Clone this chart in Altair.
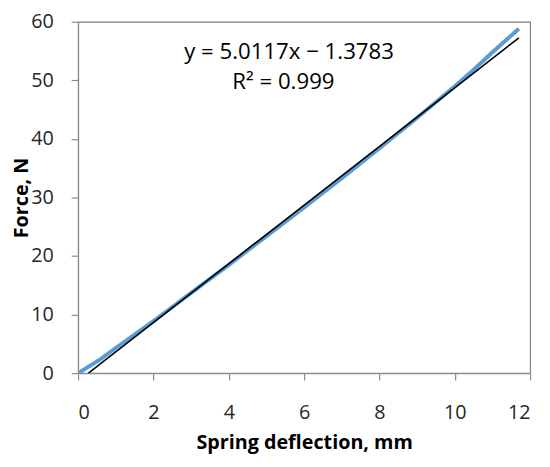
import altair as alt
import pandas as pd

# measured data (spring deflection mm, force N)
defl = [0.0, 0.3, 0.6, 1.0, 1.5, 2.0, 2.5, 3.0, 4.0, 5.0, 6.0, 7.0, 8.0, 9.0, 10.0, 10.5, 11.0, 11.4, 11.7]
force = [0.0, 1.2, 2.4, 4.3, 6.6, 8.9, 11.3, 13.7, 18.5, 23.4, 28.3, 33.3, 38.4, 43.6, 49.0, 51.8, 54.8, 57.1, 58.8]

# linear trendline coefficients
slope = 5.0117
intercept = -1.3783

# annotation
ann_text = ["y = 5.0117x \u2212 1.3783", "R\u00b2 = 0.999"]
ann_x = [5.6, 5.45]
ann_y = [54.8, 49.7]

x_ticks = [0, 2, 4, 6, 8, 10, 12]
y_ticks = [0, 10, 20, 30, 40, 50, 60]

FONT = "Open Sans"

df = pd.DataFrame({"x": defl, "y": force})
x0 = -intercept / slope
x1 = max(defl)
trend = pd.DataFrame({"x": [x0, x1], "y": [slope * x0 + intercept, slope * x1 + intercept]})
ann = pd.DataFrame({"x": ann_x, "y": ann_y, "t": ann_text})

xs = alt.Scale(domain=[0, 12], nice=False)
ys = alt.Scale(domain=[0, 60], nice=False)

xaxis = alt.Axis(values=x_ticks, title="Spring deflection, mm", grid=False,
                 tickSize=7, labelPadding=23, titleY=60, titleBaseline="top")
yaxis = alt.Axis(values=y_ticks, title="Force, N", grid=False,
                 tickSize=7, labelPadding=18, titleX=-57, titleY=178,
                 titleBaseline="middle", titleAngle=270)

data_line = alt.Chart(df).mark_line(color="#5B9BD5", strokeWidth=4, clip=True).encode(
    x=alt.X("x:Q", scale=xs, axis=xaxis),
    y=alt.Y("y:Q", scale=ys, axis=yaxis),
)

trend_line = alt.Chart(trend).mark_line(color="black", strokeWidth=1.6, clip=True).encode(
    x=alt.X("x:Q", scale=xs),
    y=alt.Y("y:Q", scale=ys),
)

texts = alt.Chart(ann).mark_text(font=FONT, fontSize=22.5, color="#000000", baseline="middle", align="center").encode(
    x=alt.X("x:Q", scale=xs),
    y=alt.Y("y:Q", scale=ys),
    text="t:N",
)

chart = alt.layer(data_line, trend_line, texts).properties(
    width=458, height=356,
    autosize=alt.AutoSizeParams(type="none"),
    padding={"left": 71, "top": 11, "right": 12, "bottom": 84},
).configure_view(
    stroke="#808080", strokeWidth=1.2
).configure_axis(
    domainColor="#8c8c8c", tickColor="#8c8c8c", domainWidth=1.2, tickWidth=1.2,
    labelFont=FONT, labelFontSize=20, labelColor="#262626",
    titleFont=FONT, titleFontSize=20, titleFontWeight="bold", titleColor="#000000",
)

chart.save("out.html", embed_options={"renderer": "svg", "actions": False})
